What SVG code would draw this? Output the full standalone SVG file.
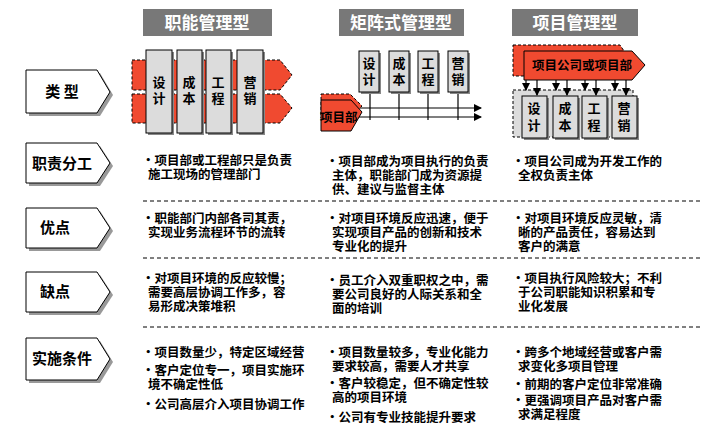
<svg xmlns="http://www.w3.org/2000/svg" width="715" height="431" viewBox="0 0 715 431">
<defs>
<style>
text{font-family:"Noto Sans CJK SC","Liberation Sans",sans-serif;font-weight:bold;fill:#000}
.hd{fill:#787878}
.hdt{fill:#fff;font-size:17px;text-anchor:middle}
.lbl{fill:#fff;stroke:#000;stroke-width:1}
.sh{fill:#999}
.lt{font-size:15px;text-anchor:middle}
.t{font-size:12.5px}
.sep{stroke:#000;stroke-width:1;stroke-dasharray:4 3}
.red{fill:#f04a30;stroke:#000;stroke-width:1;stroke-dasharray:3 2}
.reds{fill:#f04a30;stroke:#000;stroke-width:1}
.gb{fill:#dcdcdc;stroke:#000;stroke-width:1}
.gbd{fill:#dcdcdc;stroke:#000;stroke-width:1;stroke-dasharray:3 2}
.bt{font-size:13px;text-anchor:middle}
.ln{stroke:#000;stroke-width:1.2;fill:none}
</style>
<marker id="ah" markerWidth="8" markerHeight="8" refX="7" refY="4" orient="auto" markerUnits="userSpaceOnUse"><path d="M0,0 L8,4 L0,8 z" fill="#000"/></marker>
</defs>
<g id="headers">
<rect class="hd" x="143" y="9" width="129" height="27"/><text class="hdt" x="207" y="29">职能管理型</text>
<rect class="hd" x="339" y="9" width="125" height="27"/><text class="hdt" x="401" y="29">矩阵式管理型</text>
<rect class="hd" x="512" y="9" width="126" height="27"/><text class="hdt" x="575" y="29">项目管理型</text>
</g>
<g id="labels">
<g id="l1"><path class="sh" d="M29,73 H100 L113,95 L100,116 H29 Z"/><path class="lbl" d="M26,70 H97 L110,92 L97,113 H26 Z"/><text class="lt" x="62" y="97">类 型</text></g>
<g id="l2"><path class="sh" d="M29,146 H100 L113,166 L100,186 H29 Z"/><path class="lbl" d="M26,143 H97 L110,163 L97,183 H26 Z"/><text class="lt" x="62" y="169">职责分工</text></g>
<g id="l3"><path class="sh" d="M29,211 H100 L113,231 L100,251 H29 Z"/><path class="lbl" d="M26,208 H97 L110,228 L97,248 H26 Z"/><text class="lt" x="55" y="233">优点</text></g>
<g id="l4"><path class="sh" d="M29,275 H100 L113,295 L100,315 H29 Z"/><path class="lbl" d="M26,272 H97 L110,292 L97,312 H26 Z"/><text class="lt" x="55" y="297">缺点</text></g>
<g id="l5"><path class="sh" d="M29,341 H100 L113,362 L100,383 H29 Z"/><path class="lbl" d="M26,338 H97 L110,359 L97,380 H26 Z"/><text class="lt" x="62" y="364">实施条件</text></g>
</g>
<g id="separators">
<line class="sep" x1="143" y1="201" x2="700" y2="201"/>
<line class="sep" x1="143" y1="258" x2="700" y2="258"/>
<line class="sep" x1="143" y1="327" x2="700" y2="327"/>
</g>
<g id="functional">
<path class="red" d="M132,60 H280 L292,75 L280,90 H132 Z"/>
<path class="red" d="M132,94 H280 L292,108 L280,123 H132 Z"/>
<g>
<rect x="148" y="52" width="26" height="83" fill="#888"/><rect class="gb" x="146" y="50" width="26" height="83"/>
<rect x="179" y="52" width="25" height="83" fill="#888"/><rect class="gb" x="177" y="50" width="25" height="83"/>
<rect x="208" y="52" width="25" height="83" fill="#888"/><rect class="gb" x="206" y="50" width="25" height="83"/>
<rect x="239" y="52" width="26" height="83" fill="#888"/><rect class="gb" x="237" y="50" width="26" height="83"/>
<text class="bt" x="159" y="87">设</text><text class="bt" x="159" y="103">计</text>
<text class="bt" x="189" y="87">成</text><text class="bt" x="189" y="103">本</text>
<text class="bt" x="218" y="87">工</text><text class="bt" x="218" y="103">程</text>
<text class="bt" x="250" y="87">营</text><text class="bt" x="250" y="103">销</text>
</g>
</g>
<g id="matrix">
<g id="connectors-matrix">
<line class="ln" x1="370" y1="93" x2="370" y2="120"/>
<line class="ln" x1="399" y1="93" x2="399" y2="120"/>
<line class="ln" x1="428" y1="93" x2="428" y2="120"/>
<line class="ln" x1="458" y1="93" x2="458" y2="120"/>
<line class="ln" x1="350" y1="108" x2="481" y2="108" marker-end="url(#ah)"/>
<line class="ln" x1="350" y1="117" x2="481" y2="117" marker-end="url(#ah)"/>
</g>
<rect x="361" y="53" width="20" height="41" fill="#888"/><rect class="gb" x="359" y="51" width="20" height="41"/>
<rect x="391" y="53" width="20" height="41" fill="#888"/><rect class="gb" x="389" y="51" width="20" height="41"/>
<rect x="420" y="53" width="20" height="41" fill="#888"/><rect class="gb" x="418" y="51" width="20" height="41"/>
<rect x="450" y="53" width="20" height="41" fill="#888"/><rect class="gb" x="448" y="51" width="20" height="41"/>
<text class="bt" x="369" y="68">设</text><text class="bt" x="369" y="84">计</text>
<text class="bt" x="399" y="68">成</text><text class="bt" x="399" y="84">本</text>
<text class="bt" x="428" y="68">工</text><text class="bt" x="428" y="84">程</text>
<text class="bt" x="458" y="68">营</text><text class="bt" x="458" y="84">销</text>
<path class="red" d="M321,94 H350 L362,106 L350,118 H321 Z"/>
<path class="reds" d="M321,100 H351 L362,112 L351,131 H321 Z"/>
<text class="t" x="320" y="122">项目部</text>
</g>
<g id="project">
<path class="red" d="M513,45 H620 L630,60 L620,76 H513 Z"/>
<rect class="gbd" x="513" y="90" width="120" height="47"/>
<path class="reds" d="M524,51 H632 L645,65 L632,80 H524 Z"/>
<text class="t" x="532" y="70">项目公司或项目部</text>
<g id="connectors-project">
<line class="ln" x1="537" y1="80" x2="537" y2="95" marker-end="url(#ah)"/>
<line class="ln" x1="567" y1="80" x2="567" y2="95" marker-end="url(#ah)"/>
<line class="ln" x1="596" y1="80" x2="596" y2="95" marker-end="url(#ah)"/>
<line class="ln" x1="626" y1="80" x2="626" y2="95" marker-end="url(#ah)"/>
<line class="ln" x1="526" y1="80" x2="526" y2="90" marker-end="url(#ah)"/>
<line class="ln" x1="556" y1="80" x2="556" y2="90" marker-end="url(#ah)"/>
<line class="ln" x1="585" y1="80" x2="585" y2="90" marker-end="url(#ah)"/>
<line class="ln" x1="615" y1="80" x2="615" y2="90" marker-end="url(#ah)"/>
</g>
<rect x="524" y="98" width="25" height="42" fill="#888"/><rect class="gb" x="522" y="96" width="25" height="42"/>
<rect x="555" y="98" width="25" height="42" fill="#888"/><rect class="gb" x="553" y="96" width="25" height="42"/>
<rect x="584" y="98" width="25" height="42" fill="#888"/><rect class="gb" x="582" y="96" width="25" height="42"/>
<rect x="614" y="98" width="25" height="42" fill="#888"/><rect class="gb" x="612" y="96" width="25" height="42"/>
<text class="bt" x="534" y="113">设</text><text class="bt" x="534" y="130">计</text>
<text class="bt" x="565" y="113">成</text><text class="bt" x="565" y="130">本</text>
<text class="bt" x="594" y="113">工</text><text class="bt" x="594" y="130">程</text>
<text class="bt" x="624" y="113">营</text><text class="bt" x="624" y="130">销</text>
</g>
<g id="col1" class="t">
<text class="t" x="142" y="165">·项目部或工程部只是负责</text><text class="t" x="148" y="179">施工现场的管理部门</text>
<text class="t" x="142" y="223">·职能部门内部各司其责，</text><text class="t" x="148" y="237">实现业务流程环节的流转</text>
<text class="t" x="142" y="283">·对项目环境的反应较慢；</text><text class="t" x="148" y="297">需要高层协调工作多，容</text><text class="t" x="148" y="311">易形成决策堆积</text>
<text class="t" x="142" y="357">·项目数量少，特定区域经营</text>
<text class="t" x="142" y="375">·客户定位专一，项目实施环</text><text class="t" x="148" y="389">境不确定性低</text>
<text class="t" x="142" y="409">·公司高层介入项目协调工作</text>
</g>
<g id="col2">
<text class="t" x="326" y="166">·项目部成为项目执行的负责</text><text class="t" x="332" y="180">主体，职能部门成为资源提</text><text class="t" x="332" y="194">供、建议与监督主体</text>
<text class="t" x="326" y="223">·对项目环境反应迅速，便于</text><text class="t" x="332" y="237">实现项目产品的创新和技术</text><text class="t" x="332" y="251">专业化的提升</text>
<text class="t" x="326" y="285">·员工介入双重职权之中，需</text><text class="t" x="332" y="299">要公司良好的人际关系和全</text><text class="t" x="332" y="313">面的培训</text>
<text class="t" x="326" y="357">·项目数量较多，专业化能力</text><text class="t" x="332" y="371">要求较高，需要人才共享</text>
<text class="t" x="326" y="388">·客户较稳定，但不确定性较</text><text class="t" x="332" y="402">高的项目环境</text>
<text class="t" x="326" y="422">·公司有专业技能提升要求</text>
</g>
<g id="col3">
<text class="t" x="512" y="166">·项目公司成为开发工作的</text><text class="t" x="518" y="180">全权负责主体</text>
<text class="t" x="512" y="223">·对项目环境反应灵敏，清</text><text class="t" x="518" y="237">晰的产品责任，容易达到</text><text class="t" x="518" y="251">客户的满意</text>
<text class="t" x="512" y="283">·项目执行风险较大；不利</text><text class="t" x="518" y="297">于公司职能知识积累和专</text><text class="t" x="518" y="311">业化发展</text>
<text class="t" x="512" y="357">·跨多个地域经营或客户需</text><text class="t" x="518" y="371">求变化多项目管理</text>
<text class="t" x="512" y="389">·前期的客户定位非常准确</text>
<text class="t" x="512" y="405">·更强调项目产品对客户需</text><text class="t" x="518" y="419">求满足程度</text>
</g>
</svg>
